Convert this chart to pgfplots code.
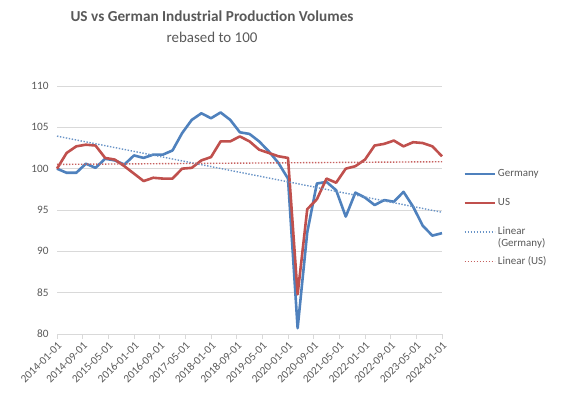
\documentclass[border=0pt]{standalone}
\usepackage{pgfplots}
\usepackage{pgfplotstable}
\pgfplotsset{compat=1.18}
\usepackage{fontspec}
\setmainfont{Carlito}
\definecolor{deblue}{HTML}{4F81BD}
\definecolor{usred}{HTML}{C0504D}
\definecolor{txtgrey}{HTML}{595959}
\definecolor{gridgrey}{HTML}{D9D9D9}
\newcommand\lstrut{\rule[-3bp]{0pt}{10bp}}

% x = months since 2014-01-01 (quarterly data)
\pgfplotstableread{
x de us
0 100.0 100.0
3 99.5 101.9
6 99.5 102.7
9 100.6 102.9
12 100.1 102.8
15 101.2 101.3
18 101.0 101.1
21 100.5 100.3
24 101.6 99.4
27 101.3 98.5
30 101.7 98.9
33 101.7 98.8
36 102.2 98.8
39 104.3 100.0
42 105.9 100.1
45 106.7 101.0
48 106.1 101.4
51 106.8 103.3
54 105.9 103.3
57 104.4 103.9
60 104.2 103.3
63 103.3 102.3
66 102.1 101.9
69 100.7 101.5
72 98.8 101.3
75 80.7 84.8
78 92.3 95.1
81 98.2 96.3
84 98.4 98.8
87 97.4 98.3
90 94.2 100.0
93 97.1 100.3
96 96.5 101.1
99 95.6 102.8
102 96.2 103.0
105 96.0 103.4
108 97.2 102.7
111 95.4 103.2
114 93.1 103.1
117 91.9 102.7
120 92.2 101.5
}\datatable
\pgfplotstablecreatecol[linear regression={x=x,y=de}]{dereg}{\datatable}
\pgfplotstablecreatecol[linear regression={x=x,y=us}]{usreg}{\datatable}

\begin{document}
\begin{tikzpicture}
\useasboundingbox (0,0) rectangle (568bp,404bp);
\begin{axis}[
  at={(57bp,70bp)}, anchor=south west,
  scale only axis, width=385bp, height=248bp,
  xmin=0, xmax=120, ymin=80, ymax=110,
  ytick={80,85,...,110},
  xtick={0,8,...,120},
  xticklabels={2014-01-01,2014-09-01,2015-05-01,2016-01-01,2016-09-01,2017-05-01,2018-01-01,2018-09-01,2019-05-01,2020-01-01,2020-09-01,2021-05-01,2022-01-01,2022-09-01,2023-05-01,2024-01-01},
  ymajorgrids, grid style={gridgrey, line width=0.9bp},
  axis line style={draw=none},
  xtick pos=bottom, ytick pos=left,
  tick align=outside, major tick length=5bp,
  xtick style={gridgrey, line width=0.9bp},
  ytick style={draw=none},
  tick label style={font=\fontsize{11.3}{13}\selectfont, text=txtgrey},
  /pgf/number format/assume math mode=true,
  xticklabel style={rotate=45, anchor=north east, inner sep=1.5bp},
  clip=false,
  legend style={draw=none, fill=none, at={(1.055,0.672)}, anchor=north west,
    font=\fontsize{11}{13}\selectfont, text=txtgrey, row sep=16.5bp,
    inner sep=0pt},
  legend cell align=left,
  legend image code/.code={\draw[#1] (0bp,0bp) -- (30bp,0bp);},
]
\addplot[deblue, line width=2.6bp, line join=round] table[x=x,y=de]{\datatable};
\addlegendentry{\lstrut Germany}
\addplot[usred, line width=2.6bp, line join=round] table[x=x,y=us]{\datatable};
\addlegendentry{\lstrut US}
\addplot[deblue!85!white, line width=1.4bp, dash pattern=on 1.4bp off 1.6bp] table[x=x,y=dereg]{\datatable};
\addlegendentry{\lstrut\smash{\begin{tabular}[t]{@{}l@{}}Linear\\[-1pt](Germany)\end{tabular}}}
\addplot[usred!90!white, line width=1.4bp, dash pattern=on 1.4bp off 1.6bp] table[x=x,y=usreg]{\datatable};
\addlegendentry{\lstrut Linear (US)}
\end{axis}
\node[font=\fontsize{15.3}{17}\selectfont\bfseries, text=txtgrey] at (212bp,388bp) {US vs German Industrial Production Volumes};
\node[font=\fontsize{15}{17}\selectfont, text=txtgrey] at (212bp,367bp) {rebased to 100};
\end{tikzpicture}
\end{document}
